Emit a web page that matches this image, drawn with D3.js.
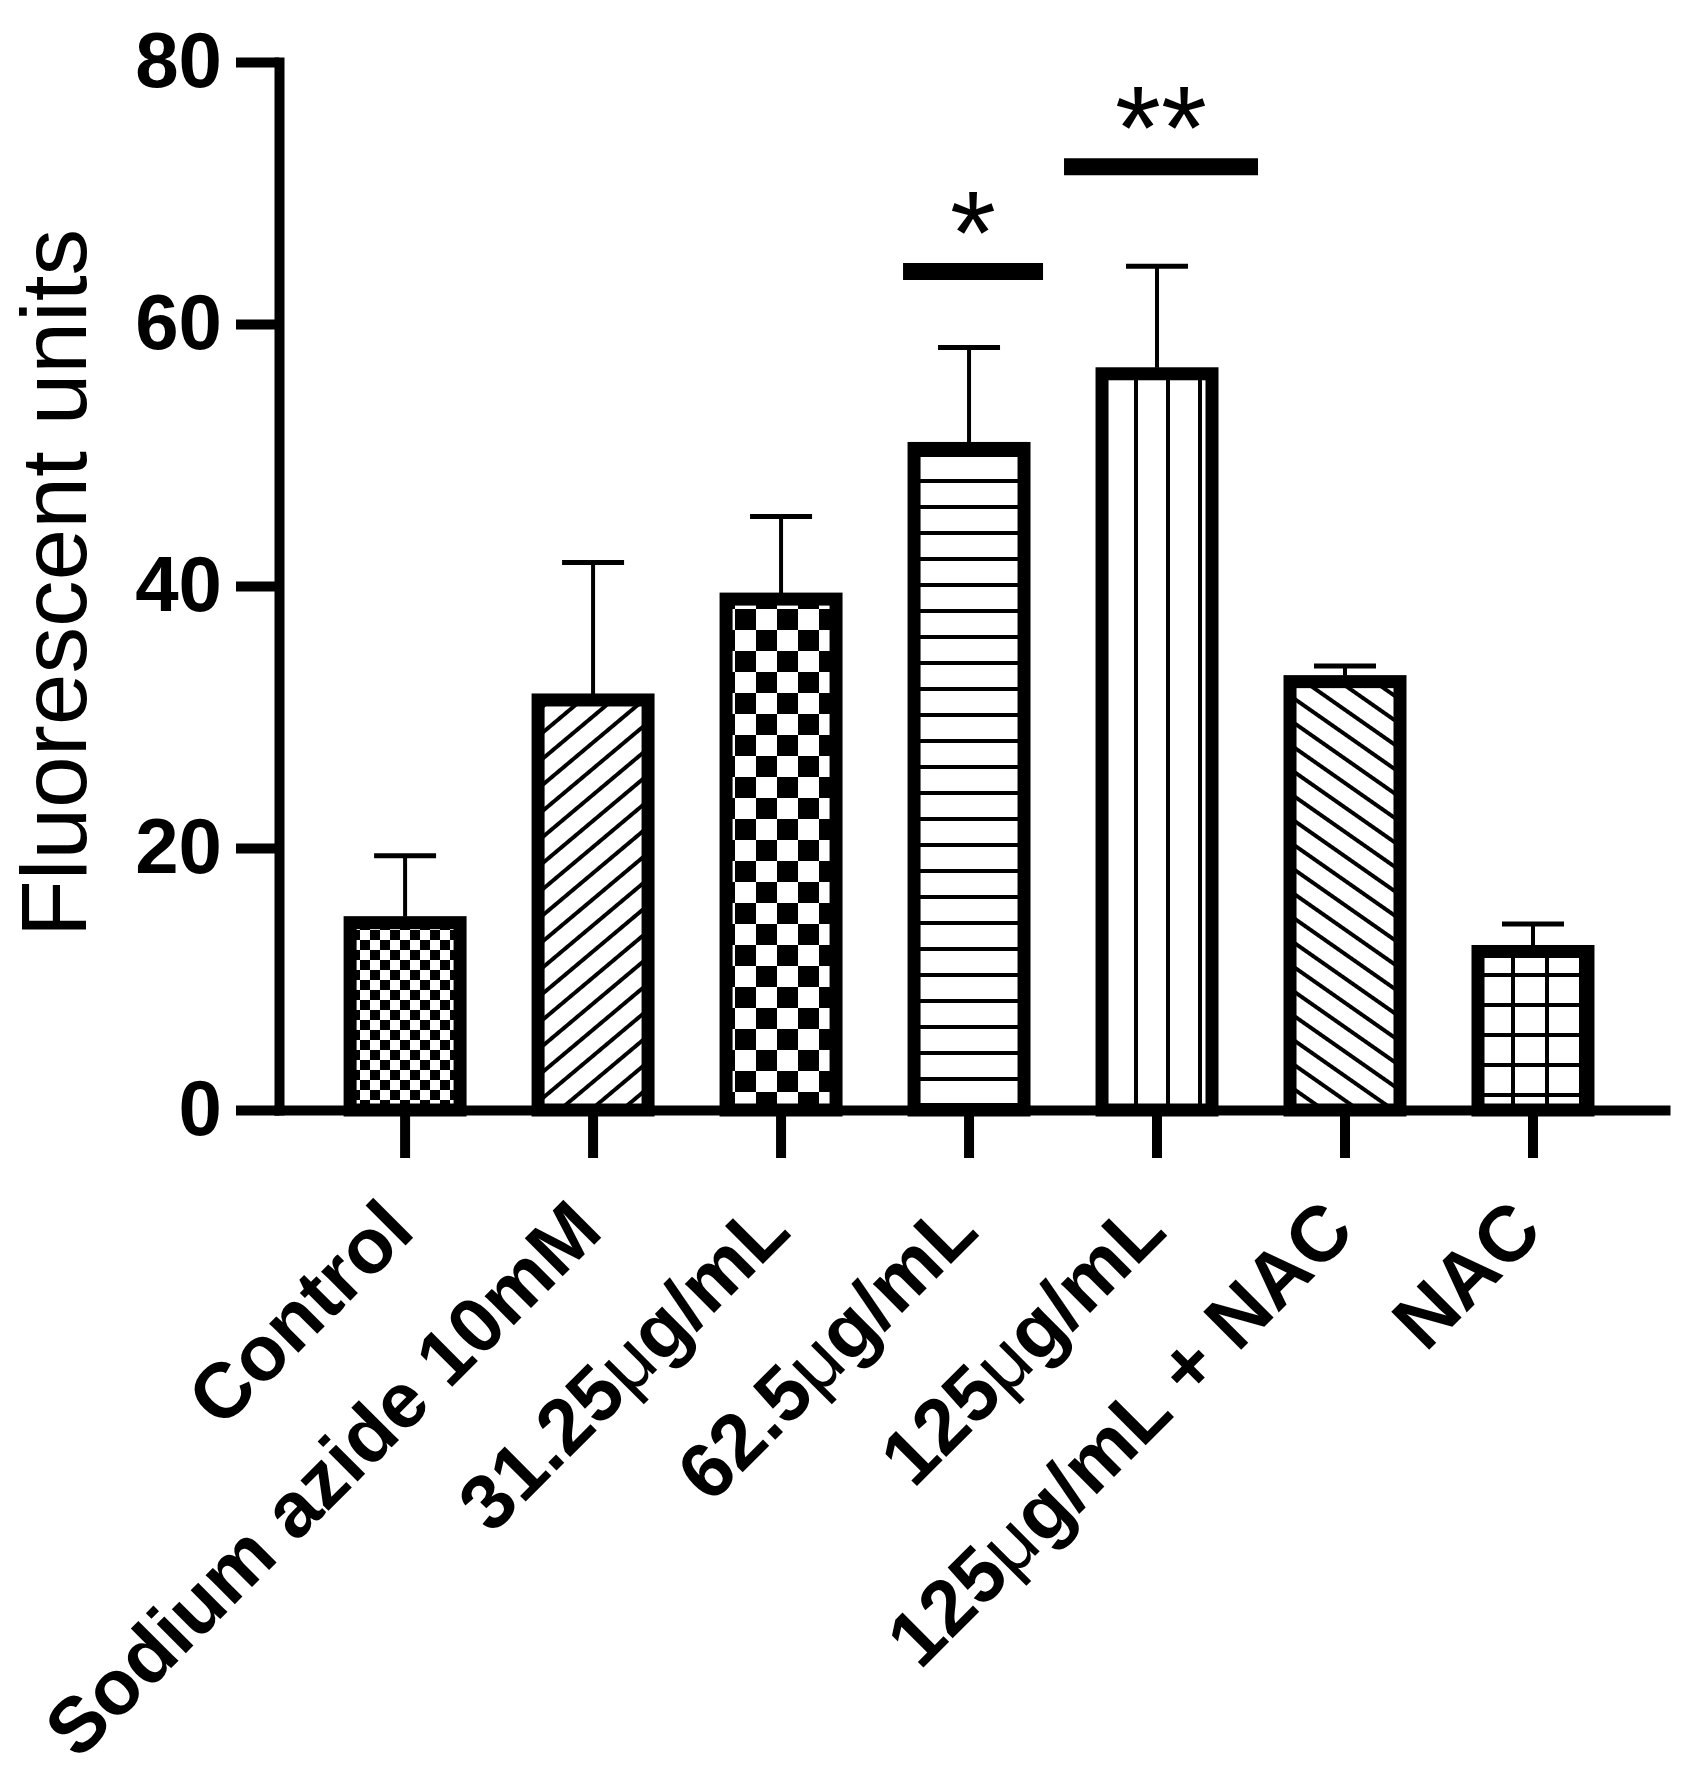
<!DOCTYPE html>
<html>
<head>
<meta charset="utf-8">
<script src="https://cdn.jsdelivr.net/npm/d3@7"></script>
<style>
  body { margin: 0; background: #fff; }
</style>
</head>
<body>
<svg width="1685" height="1781"></svg>
<script>
// data
var categories = ["Control", "Sodium azide 10mM", "31.25μg/mL", "62.5μg/mL", "125μg/mL", "125μg/mL + NAC", "NAC"];
var means = [14.3, 31.3, 39.0, 50.5, 56.2, 32.7, 12.1];
var sds = [5.1, 10.5, 6.3, 7.7, 8.2, 1.2, 2.1];
var yTicks = [0, 20, 40, 60, 80];
var fills = ["checkSmall", "hatchUp", "checkLarge", "hLines", "vLines", "hatchDown", "grid"];

// significance marks
var sigCats = ["62.5μg/mL", "125μg/mL"];
var sigLevels = [64, 72];
var sigLabels = ["*", "**"];

var svg = d3.select("svg");
svg.append("rect").attr("width", 1685).attr("height", 1781).attr("fill", "#fff");

var x = d3.scaleBand()
  .domain(categories)
  .range([279, 1665])
  .paddingInner(0.415)
  .paddingOuter(0.394)
  .align(0.48);

var y = d3.scaleLinear()
  .domain([0, 80])
  .range([1110, 62]);

var defs = svg.append("defs");

function checker(id, c) {
  var p = defs.append("pattern").attr("id", id)
    .attr("patternUnits", "userSpaceOnUse")
    .attr("width", 2 * c).attr("height", 2 * c);
  p.append("rect").attr("width", 2 * c).attr("height", 2 * c).attr("fill", "#fff");
  p.append("rect").attr("width", c).attr("height", c).attr("fill", "#000");
  p.append("rect").attr("x", c).attr("y", c).attr("width", c).attr("height", c).attr("fill", "#000");
  return p;
}

function lines(id, w, h, angle, horiz, vert) {
  var p = defs.append("pattern").attr("id", id)
    .attr("patternUnits", "userSpaceOnUse")
    .attr("width", w).attr("height", h);
  if (angle) p.attr("patternTransform", "rotate(" + angle + ")");
  p.append("rect").attr("width", w).attr("height", h).attr("fill", "#fff");
  if (horiz) p.append("line").attr("x1", 0).attr("x2", w).attr("y1", h / 2).attr("y2", h / 2)
    .attr("stroke", "#000").attr("stroke-width", 4);
  if (vert) p.append("line").attr("x1", w / 2).attr("x2", w / 2).attr("y1", 0).attr("y2", h)
    .attr("stroke", "#000").attr("stroke-width", 4);
  return p;
}

checker("checkSmall", 10);
checker("checkLarge", 21);
lines("hatchUp", 20, 20, -40, true, false);
lines("hatchDown", 20, 20, 35, true, false);
lines("hLines", 20, 26, 0, true, false);
lines("vLines", 32, 20, 0, false, true);
lines("grid", 34, 30, 0, true, true);

// bars
svg.append("g").selectAll("rect")
  .data(categories)
  .enter()
  .append("rect")
  .attr("x", function (d) { return x(d); })
  .attr("y", function (d, i) { return y(means[i]); })
  .attr("width", x.bandwidth())
  .attr("height", function (d, i) { return y(0) - y(means[i]); })
  .attr("fill", function (d, i) { return "url(#" + fills[i] + ")"; })
  .attr("stroke", "#000")
  .attr("stroke-width", 13);

// error bars (upper only)
var err = svg.append("g").selectAll("g")
  .data(categories)
  .enter()
  .append("g");

err.append("line")
  .attr("x1", function (d) { return x(d) + x.bandwidth() / 2; })
  .attr("x2", function (d) { return x(d) + x.bandwidth() / 2; })
  .attr("y1", function (d, i) { return y(means[i]) - 6; })
  .attr("y2", function (d, i) { return y(means[i] + sds[i]); })
  .attr("stroke", "#000")
  .attr("stroke-width", 4);

err.append("line")
  .attr("x1", function (d) { return x(d) + x.bandwidth() / 2 - 31; })
  .attr("x2", function (d) { return x(d) + x.bandwidth() / 2 + 31; })
  .attr("y1", function (d, i) { return y(means[i] + sds[i]); })
  .attr("y2", function (d, i) { return y(means[i] + sds[i]); })
  .attr("stroke", "#000")
  .attr("stroke-width", 5);

// axes
var yAxis = svg.append("g")
  .attr("transform", "translate(279,0)")
  .call(d3.axisLeft(y).tickValues(yTicks).tickSize(43).tickSizeOuter(0).tickPadding(14));

var xAxis = svg.append("g")
  .attr("transform", "translate(0," + y(0) + ")")
  .call(d3.axisBottom(x).tickSize(48).tickSizeOuter(0).tickFormat(""));

svg.selectAll(".domain")
  .attr("stroke", "#000")
  .attr("stroke-width", 10)
  .attr("stroke-linecap", "square");
svg.selectAll(".tick line")
  .attr("stroke", "#000")
  .attr("stroke-width", 10);

yAxis.selectAll("text")
  .attr("font-family", "Liberation Sans, Arial, sans-serif")
  .attr("font-weight", 700)
  .style("font-size", "78px")
  .attr("fill", "#000");

// category labels, rotated
var labels = svg.append("g").selectAll("text")
  .data(categories)
  .enter()
  .append("text")
  .attr("transform", function (d) {
    return "translate(" + (x(d) + x.bandwidth() / 2 + 12) + ",1234) rotate(-45)";
  })
  .attr("text-anchor", "end")
  .attr("font-family", "Liberation Sans, Arial, sans-serif")
  .attr("font-weight", 700)
  .style("font-size", "78px");

labels.each(function (d) {
  var t = d3.select(this);
  var parts = d.split("μ");
  parts.forEach(function (p, k) {
    if (k > 0) t.append("tspan").attr("font-weight", 400).text("μ");
    t.append("tspan").text(p);
  });
});

// y title
svg.append("text")
  .attr("transform", "translate(86,583) rotate(-90)")
  .attr("text-anchor", "middle")
  .attr("font-family", "Liberation Sans, Arial, sans-serif")
  .style("font-size", "93px")
  .text("Fluorescent units");

// significance bars
var halfW = [70, 97];
var sig = svg.append("g").selectAll("g")
  .data(sigCats)
  .enter()
  .append("g");

sig.append("line")
  .attr("x1", function (d, i) { return x(d) + x.bandwidth() / 2 + 4 - halfW[i]; })
  .attr("x2", function (d, i) { return x(d) + x.bandwidth() / 2 + 4 + halfW[i]; })
  .attr("y1", function (d, i) { return y(sigLevels[i]); })
  .attr("y2", function (d, i) { return y(sigLevels[i]); })
  .attr("stroke", "#000")
  .attr("stroke-width", 17);

sig.append("text")
  .attr("x", function (d, i) { return x(d) + x.bandwidth() / 2 + 4; })
  .attr("y", function (d, i) { return y(sigLevels[i]) + 2; })
  .attr("text-anchor", "middle")
  .attr("font-family", "Liberation Sans, Arial, sans-serif")
  .style("font-size", "118px")
  .text(function (d, i) { return sigLabels[i]; });
</script>
</body>
</html>
